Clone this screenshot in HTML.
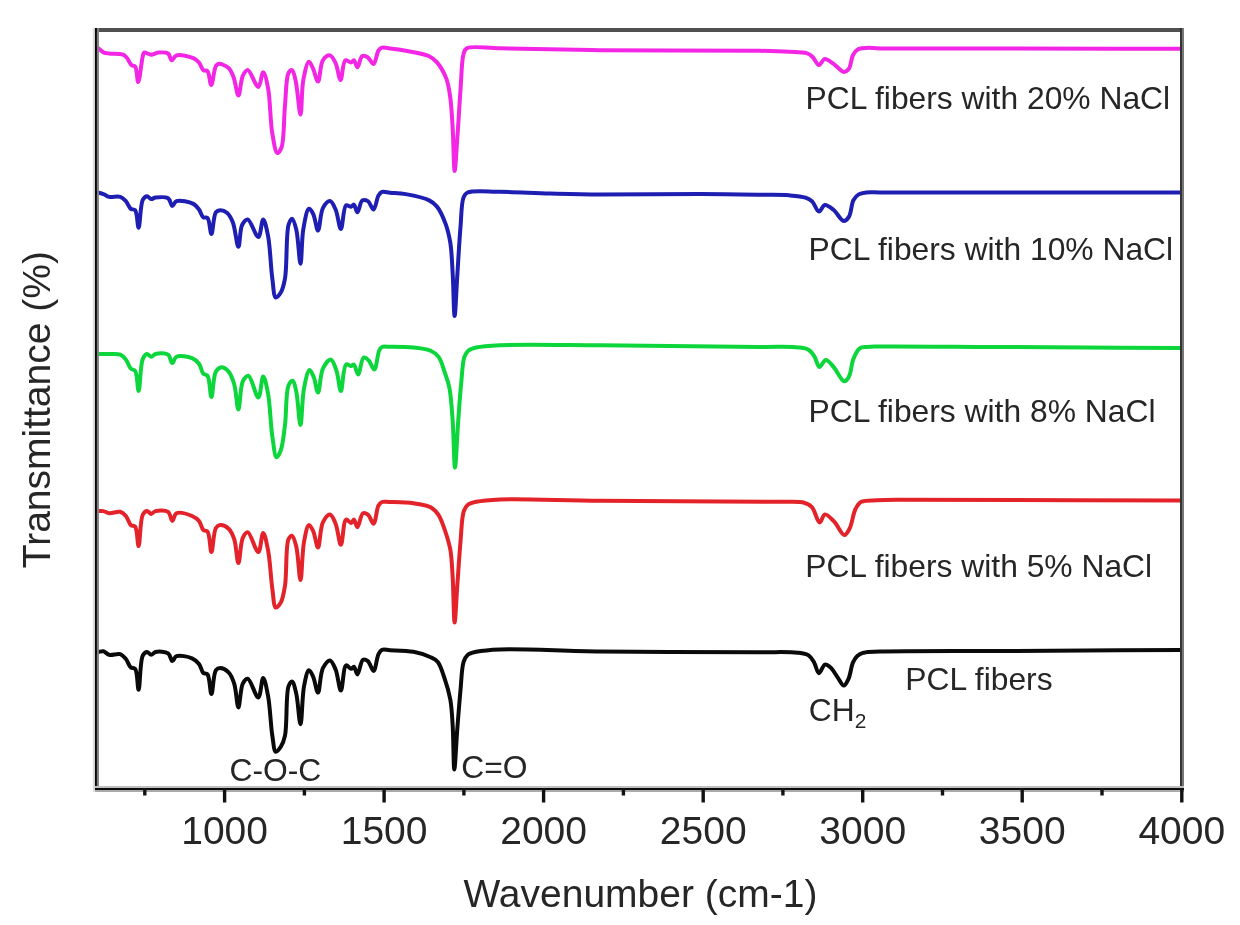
<!DOCTYPE html>
<html><head><meta charset="utf-8"><title>FTIR spectra of PCL fibers</title><style>
html,body{margin:0;padding:0;background:#fff;}
svg{display:block;}
text{font-family:"Liberation Sans",Arial,sans-serif;fill:#262626;}
</style></head><body>
<svg width="1240" height="925" viewBox="0 0 1240 925">
<rect width="1240" height="925" fill="#fff"/>
<g fill="none" stroke-width="4" stroke-linejoin="round" stroke-linecap="round">
<path d="M97.5,48.4 C97.8,48.4 98.1,48.3 98.5,48.4 C99.6,48.8 101.6,51.5 103.4,52.3 C105.1,53.1 106.8,53.2 109.1,53.5 C112.7,54.0 120.0,53.4 123.1,54.7 C125.0,55.5 125.7,56.6 127.0,58.0 C128.6,59.8 129.9,63.9 131.6,65.2 C132.7,66.1 134.2,65.4 135.1,66.5 C137.1,68.8 137.1,82.0 138.2,82.0 C139.6,82.0 141.5,60.6 142.8,56.0 C143.3,54.3 143.2,53.1 144.2,52.6 C145.6,52.0 148.9,54.7 151.2,54.7 C153.6,54.7 155.7,52.9 158.3,52.6 C161.3,52.3 165.9,52.0 168.1,53.5 C170.1,54.8 170.2,60.1 171.6,60.3 C173.0,60.5 174.1,56.2 176.5,55.4 C180.3,54.2 189.4,56.5 193.4,58.2 C196.0,59.3 197.4,60.7 199.0,62.5 C200.8,64.5 201.5,68.7 203.3,70.1 C204.5,71.1 206.4,70.1 207.5,71.2 C209.6,73.3 209.9,85.0 211.2,85.0 C212.7,85.0 213.9,69.1 215.9,66.0 C216.8,64.7 217.4,64.0 218.7,63.8 C220.9,63.5 226.1,65.8 228.6,68.0 C231.0,70.2 232.1,73.4 233.5,77.0 C235.5,82.0 236.9,95.5 238.4,95.5 C240.0,95.5 240.6,80.2 242.8,75.8 C244.2,73.1 245.9,70.0 247.7,70.1 C250.7,70.3 255.7,87.3 258.3,87.0 C260.6,86.7 261.6,72.3 263.2,72.3 C264.9,72.3 266.8,81.6 268.1,88.4 C270.3,99.5 270.2,121.5 272.3,133.4 C273.7,141.3 275.2,152.6 277.3,153.0 C278.5,153.3 280.4,150.4 281.5,147.5 C284.3,140.2 283.7,118.4 285.0,105.3 C286.1,93.8 285.9,77.8 288.5,73.0 C289.5,71.2 291.0,69.8 292.0,70.1 C293.5,70.5 294.4,75.6 295.5,80.0 C297.5,88.0 299.2,114.5 300.5,114.5 C301.8,114.5 301.5,89.6 303.3,80.0 C304.7,72.9 306.9,61.9 308.9,61.7 C310.2,61.5 311.8,65.9 313.1,68.7 C314.8,72.3 316.5,81.6 318.0,81.5 C319.9,81.4 320.0,64.6 322.9,60.3 C324.7,57.6 327.9,55.0 330.0,55.4 C332.2,55.8 334.0,59.9 335.6,63.1 C337.8,67.5 338.9,80.0 340.5,80.0 C342.2,80.0 342.6,61.8 345.4,60.3 C346.9,59.5 349.6,62.6 351.1,62.4 C352.3,62.2 353.0,60.1 353.9,60.3 C355.2,60.6 356.2,67.3 357.4,67.3 C358.9,67.3 360.0,57.2 362.3,56.1 C363.9,55.3 366.2,56.4 367.9,57.5 C370.0,58.8 372.0,64.3 373.6,64.0 C375.7,63.6 376.6,53.2 378.5,50.5 C379.6,49.0 380.5,48.2 382.0,47.7 C384.0,47.1 386.9,48.0 390.0,48.4 C394.4,48.9 400.0,49.6 405.7,50.7 C412.8,52.0 423.7,53.5 429.2,56.2 C432.8,57.9 434.5,59.5 437.0,62.4 C440.4,66.4 444.2,73.0 446.4,78.9 C448.6,84.8 449.3,90.6 450.3,97.7 C451.6,106.8 452.0,117.8 452.7,129.0 C453.5,142.0 453.8,171.0 454.6,171.0 C455.4,171.0 456.5,149.1 457.4,136.8 C458.5,122.4 459.4,104.4 460.5,89.8 C461.5,77.0 461.5,60.4 463.6,53.8 C464.5,51.0 464.6,49.6 466.8,48.3 C471.9,45.4 486.0,48.2 500.0,48.3 C524.4,48.5 562.8,49.8 600.0,50.2 C647.1,50.7 728.2,50.2 760.0,50.8 C773.6,51.1 780.6,51.3 789.0,51.8 C795.6,52.2 802.3,51.9 806.5,53.2 C809.1,54.0 810.4,55.0 812.3,56.6 C814.7,58.6 816.8,64.9 819.0,65.0 C820.9,65.1 822.5,59.3 824.8,59.0 C827.3,58.6 830.5,61.9 833.5,63.9 C837.0,66.2 841.3,71.9 844.2,72.0 C846.1,72.0 847.7,70.5 849.0,68.7 C851.0,65.9 851.1,58.6 852.9,55.2 C854.2,52.7 855.6,50.6 857.7,49.4 C860.0,48.1 863.2,48.1 866.5,47.9 C870.5,47.6 873.3,48.3 880.0,48.4 C900.1,48.8 955.9,48.5 1000.0,48.5 C1054.3,48.6 1121.0,48.6 1181.5,48.7" stroke="#f226e4"/>
<path d="M97.5,192.5 C97.8,192.6 98.0,192.6 98.5,192.7 C99.5,192.9 101.7,193.5 103.4,194.1 C105.3,194.8 106.8,196.4 109.1,196.9 C112.1,197.6 117.3,195.9 120.3,196.9 C122.6,197.7 124.2,199.3 125.9,201.1 C127.8,203.2 128.9,207.4 130.8,208.8 C132.1,209.8 133.9,208.9 135.1,210.2 C137.4,212.8 137.5,227.8 138.6,227.8 C140.0,227.8 140.2,204.4 142.8,199.7 C144.0,197.6 145.6,196.3 147.0,196.2 C148.4,196.1 149.7,198.8 151.2,199.0 C152.6,199.2 153.7,197.8 155.5,197.6 C158.6,197.2 165.3,196.5 168.1,198.3 C170.5,199.8 170.8,205.8 172.3,206.0 C173.6,206.1 174.3,201.9 176.5,201.1 C180.1,199.8 189.5,201.9 193.4,203.9 C196.1,205.3 197.4,207.3 199.0,209.5 C200.7,211.8 201.5,216.0 203.3,217.3 C204.5,218.2 206.3,216.9 207.5,218.0 C209.8,220.1 210.1,234.0 211.4,234.0 C212.9,234.0 213.3,215.6 215.9,212.3 C217.1,210.8 218.5,210.3 220.1,210.2 C222.1,210.1 225.2,211.3 227.2,213.0 C229.6,215.0 231.2,218.2 232.8,222.2 C235.3,228.3 236.8,246.8 238.4,246.8 C239.9,246.8 239.7,229.7 242.1,225.0 C243.5,222.2 245.7,219.2 247.7,219.4 C250.9,219.8 255.7,237.4 258.3,237.0 C260.8,236.7 261.5,219.4 263.2,219.4 C264.8,219.4 266.8,229.3 268.1,236.2 C270.2,247.0 270.7,267.1 272.3,278.4 C273.4,286.0 273.6,296.8 275.8,297.5 C277.1,297.9 279.4,294.8 280.8,292.5 C282.8,289.2 283.9,284.7 285.0,278.4 C287.2,266.4 285.9,234.0 288.5,225.0 C289.5,221.7 290.9,218.6 292.0,218.7 C293.4,218.8 295.0,224.6 296.2,229.2 C298.3,237.3 299.3,263.7 300.5,263.7 C301.7,263.7 301.6,239.1 303.3,229.2 C304.7,221.4 306.6,209.3 308.9,208.8 C310.2,208.5 311.9,211.4 313.1,213.7 C315.2,217.5 316.5,230.7 318.0,230.6 C319.8,230.5 320.1,213.2 322.9,208.1 C324.8,204.7 327.9,200.9 330.0,201.1 C332.1,201.3 334.0,206.0 335.6,209.5 C337.9,214.5 339.2,229.0 340.9,229.0 C342.7,229.0 343.1,207.1 346.1,205.3 C347.5,204.5 349.7,207.0 351.1,206.7 C352.2,206.5 353.0,204.4 353.9,204.6 C355.2,204.9 356.2,212.3 357.4,212.3 C358.9,212.3 360.0,201.8 362.3,200.4 C363.9,199.5 366.2,200.1 367.9,201.1 C370.1,202.5 371.9,209.7 373.6,209.5 C375.6,209.2 376.6,198.5 378.5,195.5 C379.6,193.7 380.4,192.5 382.0,191.9 C384.0,191.2 386.9,192.4 390.0,192.7 C394.4,193.1 400.0,193.1 405.7,194.1 C412.8,195.4 423.7,197.6 429.2,200.4 C432.7,202.2 434.6,203.7 437.0,206.6 C440.3,210.7 443.4,217.9 445.6,223.9 C447.8,229.9 449.1,235.6 450.3,242.7 C451.8,251.8 452.0,262.8 452.7,274.0 C453.5,287.0 453.8,316.0 454.6,316.0 C455.4,316.0 456.4,288.4 457.4,274.0 C458.4,258.8 459.3,240.9 460.5,227.0 C461.4,215.9 461.3,202.7 463.6,197.2 C464.7,194.7 465.2,193.6 467.6,192.5 C473.0,189.9 488.0,191.7 500.0,191.8 C514.9,191.9 533.3,193.1 550.0,193.5 C566.7,193.9 580.5,194.3 600.0,194.4 C627.6,194.6 670.9,193.9 700.0,194.0 C722.5,194.1 743.6,194.5 760.0,194.8 C771.4,195.0 780.7,194.6 789.0,195.3 C795.3,195.8 801.3,196.2 805.5,197.7 C808.4,198.7 810.2,199.7 812.3,201.6 C814.8,204.0 816.7,211.3 819.0,211.5 C820.9,211.6 822.5,205.4 824.8,205.0 C827.3,204.6 830.7,207.6 833.5,209.8 C837.0,212.6 840.8,220.8 843.7,221.0 C845.7,221.1 847.6,218.9 849.0,216.6 C851.3,213.1 851.3,204.1 853.4,200.2 C854.9,197.5 856.5,195.7 858.7,194.4 C860.9,193.1 863.5,192.8 866.5,192.4 C870.4,191.9 873.3,192.4 880.0,192.4 C900.1,192.4 955.9,192.5 1000.0,192.5 C1054.3,192.5 1121.0,192.6 1181.5,192.6" stroke="#1e1eb2"/>
<path d="M97.5,354.0 C97.8,354.0 98.0,354.0 98.5,354.0 C100.2,354.0 105.5,353.9 109.1,354.0 C112.8,354.1 117.4,353.5 120.3,354.7 C122.7,355.7 124.3,357.5 125.9,359.6 C127.8,362.0 128.9,366.8 130.8,368.7 C132.1,370.0 134.0,369.3 135.1,370.9 C137.5,374.1 137.5,391.0 138.6,391.0 C140.0,391.0 140.2,364.7 142.8,358.9 C144.0,356.3 145.5,354.2 147.0,354.0 C148.3,353.8 149.8,356.8 151.2,356.8 C152.6,356.8 153.6,354.5 155.5,354.0 C158.5,353.2 165.3,352.8 168.1,354.7 C170.5,356.3 170.8,363.0 172.3,363.1 C173.6,363.2 174.2,357.9 176.5,356.8 C179.8,355.2 188.0,356.6 192.0,358.2 C195.0,359.4 197.2,361.4 199.0,363.8 C201.0,366.4 201.5,371.7 203.3,373.7 C204.5,375.0 206.4,374.3 207.5,375.8 C210.0,379.1 210.1,397.0 211.4,397.0 C212.9,397.0 213.0,376.3 215.9,371.6 C217.4,369.1 219.5,367.4 221.5,367.3 C223.7,367.2 226.6,369.4 228.6,371.6 C231.1,374.5 232.7,379.2 234.2,384.2 C236.3,391.1 237.0,409.5 238.4,409.5 C239.9,409.5 240.0,387.0 242.8,381.4 C244.3,378.5 246.5,375.5 248.4,375.8 C251.7,376.4 255.8,397.7 258.3,397.5 C260.7,397.3 261.5,376.5 263.2,376.5 C264.8,376.5 266.8,386.8 268.1,394.0 C270.2,405.0 270.5,424.6 272.3,436.2 C273.6,444.5 274.6,457.0 276.6,457.3 C277.8,457.5 279.6,453.5 280.8,450.3 C282.9,444.6 283.8,434.4 285.0,425.0 C286.5,413.3 285.7,392.3 288.5,385.6 C289.6,382.9 291.5,380.5 292.7,380.7 C294.2,381.0 295.2,386.6 296.2,391.2 C298.0,399.2 299.2,425.0 300.5,425.0 C301.8,425.0 302.0,398.4 304.0,388.4 C305.4,381.2 307.6,370.3 309.6,370.1 C310.9,369.9 312.6,374.3 313.8,377.2 C315.5,381.2 316.6,392.5 318.0,392.5 C319.7,392.4 320.1,374.5 322.9,368.7 C324.9,364.6 328.5,359.4 330.7,359.6 C332.9,359.8 334.7,365.9 336.3,370.1 C338.4,375.8 339.4,391.0 340.9,391.0 C342.6,391.0 342.9,366.5 346.1,364.5 C347.5,363.6 349.7,366.0 351.1,365.9 C352.2,365.8 353.0,364.2 353.9,364.5 C355.5,365.1 356.7,374.5 358.1,374.4 C359.9,374.3 361.2,358.5 363.7,357.5 C365.1,357.0 367.1,358.8 368.6,360.3 C370.7,362.3 372.7,369.7 374.3,369.5 C376.5,369.2 377.4,354.2 379.2,350.5 C380.1,348.7 380.6,347.7 382.0,347.0 C383.9,346.1 386.6,346.8 390.0,346.8 C395.8,346.8 406.3,346.7 413.5,347.5 C419.7,348.2 426.3,348.7 430.7,350.7 C434.1,352.2 436.4,354.0 438.6,356.9 C441.4,360.7 443.0,367.3 444.8,372.6 C446.6,377.8 448.3,382.0 449.5,388.3 C451.2,397.2 451.8,409.3 452.7,421.2 C453.7,435.3 454.1,467.5 455.0,467.5 C455.9,467.5 457.1,436.0 458.2,421.2 C459.2,407.6 460.1,393.6 461.3,382.0 C462.2,372.7 462.5,362.3 464.4,356.9 C465.4,354.0 466.5,352.2 468.3,350.7 C470.3,349.0 472.8,348.3 476.2,347.5 C481.9,346.1 489.3,345.7 500.0,345.2 C521.8,344.2 562.8,345.1 600.0,345.3 C647.1,345.6 724.8,346.5 760.0,346.9 C777.3,347.1 790.1,346.3 798.7,347.4 C803.1,348.0 805.8,348.2 808.4,349.8 C810.8,351.2 812.5,353.6 814.2,356.1 C816.3,359.1 817.4,366.7 819.5,367.0 C821.3,367.3 823.5,360.1 825.8,360.0 C828.2,359.9 830.9,363.9 833.5,366.8 C837.0,370.6 841.2,381.1 844.2,381.3 C846.0,381.4 847.7,378.9 849.0,376.5 C851.2,372.7 851.3,364.0 853.4,359.0 C855.1,354.9 857.1,350.3 859.7,348.4 C861.7,347.0 863.8,347.2 866.5,346.9 C870.2,346.4 873.3,346.6 880.0,346.5 C900.1,346.2 955.9,346.8 1000.0,347.0 C1054.3,347.3 1121.0,347.7 1181.5,348.0" stroke="#0cd63c"/>
<path d="M97.5,511.1 C97.8,511.1 98.0,511.1 98.5,511.1 C99.5,511.1 101.7,510.8 103.4,511.1 C105.3,511.4 106.8,512.9 109.1,513.2 C112.2,513.6 117.3,511.0 120.3,511.8 C122.6,512.4 124.3,514.1 125.9,516.0 C127.9,518.3 128.9,523.4 130.8,525.1 C132.1,526.2 133.9,525.3 135.1,526.6 C137.5,529.4 137.5,546.0 138.6,546.0 C140.0,546.0 140.0,519.7 142.8,514.6 C144.0,512.5 145.6,511.2 147.0,511.1 C148.4,511.0 149.8,513.9 151.2,513.9 C152.6,513.9 153.6,511.6 155.5,511.1 C158.5,510.3 165.3,509.9 168.1,511.8 C170.6,513.5 170.9,520.9 172.3,520.9 C173.7,520.9 174.1,514.4 176.5,513.2 C179.8,511.6 188.0,514.3 192.0,516.0 C195.0,517.2 197.2,518.7 199.0,520.9 C201.0,523.3 201.5,528.5 203.3,530.1 C204.5,531.2 206.4,530.2 207.5,531.5 C210.0,534.3 210.1,552.0 211.4,552.0 C212.9,552.0 213.3,532.0 215.9,528.0 C217.1,526.2 218.4,525.3 220.1,525.1 C222.4,524.9 226.3,526.6 228.6,528.7 C231.2,531.1 232.7,534.8 234.2,539.2 C236.3,545.4 237.0,563.0 238.4,563.0 C239.9,563.0 240.3,543.0 242.8,537.8 C244.1,535.0 245.9,532.0 247.7,532.2 C250.8,532.6 255.7,552.3 258.3,552.0 C260.7,551.7 261.5,532.9 263.2,532.9 C264.8,532.9 266.7,543.5 268.1,550.5 C270.1,560.7 270.8,577.9 272.3,588.4 C273.4,595.9 273.6,606.8 275.8,607.5 C277.1,607.9 279.4,604.9 280.8,602.5 C282.9,598.7 283.9,592.7 285.0,585.6 C286.9,574.0 285.5,545.7 288.5,539.2 C289.5,537.1 290.9,535.5 292.0,535.7 C293.6,536.0 295.0,541.6 296.2,546.2 C298.3,554.2 299.2,580.0 300.5,580.0 C301.8,580.0 302.1,552.1 304.0,542.0 C305.3,535.2 306.9,525.5 308.9,525.1 C310.2,524.9 311.8,528.3 313.1,530.8 C315.1,534.8 316.5,547.6 318.0,547.5 C319.8,547.4 320.0,528.0 322.9,522.3 C324.8,518.6 327.9,514.4 330.0,514.6 C332.1,514.8 334.0,519.9 335.6,523.7 C337.9,529.1 339.2,544.8 340.9,544.8 C342.7,544.8 343.2,520.6 346.1,519.5 C347.5,518.9 349.7,523.2 351.1,523.0 C352.3,522.8 353.0,519.4 353.9,519.5 C355.1,519.7 356.1,527.3 357.4,527.3 C359.1,527.3 360.5,514.4 363.0,513.2 C364.4,512.5 366.4,513.5 367.9,514.6 C370.1,516.2 372.0,523.9 373.6,523.7 C375.7,523.4 376.4,509.1 378.5,505.5 C379.6,503.7 380.4,502.7 382.0,502.0 C384.0,501.2 386.6,501.9 390.0,502.0 C395.8,502.2 406.3,502.3 413.5,503.3 C419.7,504.2 426.3,504.8 430.7,507.2 C434.2,509.1 436.3,511.7 438.6,515.1 C441.5,519.5 443.6,526.5 445.6,532.3 C447.5,538.0 449.1,543.0 450.3,549.5 C451.8,557.7 452.0,567.2 452.7,577.7 C453.5,590.9 453.8,622.5 454.6,622.5 C455.4,622.5 456.4,597.1 457.4,584.0 C458.4,570.2 459.4,554.6 460.5,541.7 C461.5,530.9 461.6,518.3 463.6,511.9 C464.7,508.6 465.6,506.6 467.6,504.9 C469.7,503.1 472.6,502.6 476.2,501.8 C482.1,500.5 489.3,499.9 500.0,499.4 C521.8,498.5 561.8,500.4 600.0,500.8 C651.2,501.3 747.8,501.1 780.0,501.8 C791.8,502.1 798.5,501.1 804.2,502.7 C807.6,503.7 809.6,504.7 811.9,507.1 C815.1,510.4 817.2,522.4 819.7,522.5 C821.5,522.6 822.7,514.8 825.0,514.4 C827.5,514.0 831.2,518.6 834.2,521.6 C837.8,525.2 841.5,535.0 844.4,535.0 C846.4,535.0 848.1,531.4 849.7,528.4 C852.1,523.8 853.0,513.7 855.5,509.0 C857.2,505.8 858.5,503.3 861.3,501.8 C865.0,499.8 871.1,500.6 876.8,500.3 C883.7,499.9 888.0,499.9 900.0,499.8 C941.9,499.4 1087.7,500.3 1181.5,500.6" stroke="#e4222a"/>
<path d="M97.5,652.0 C97.8,652.0 98.0,652.0 98.5,652.0 C99.5,651.9 101.8,650.9 103.4,651.2 C105.3,651.6 106.8,654.2 109.1,654.8 C112.1,655.6 117.4,653.1 120.3,654.1 C122.7,654.9 124.2,657.0 125.9,659.0 C127.8,661.3 128.9,665.9 130.8,667.4 C132.1,668.5 133.9,667.5 135.1,668.8 C137.6,671.7 137.5,689.8 138.6,689.8 C140.0,689.8 139.9,660.9 142.8,655.5 C144.0,653.4 145.6,652.1 147.0,652.0 C148.4,651.9 149.8,654.8 151.2,654.8 C152.6,654.8 153.6,652.5 155.5,652.0 C158.5,651.3 165.3,651.5 168.1,653.4 C170.5,655.0 170.8,660.9 172.3,661.1 C173.6,661.2 174.3,657.0 176.5,656.2 C179.8,654.9 188.0,656.6 192.0,658.3 C195.0,659.6 197.1,661.5 199.0,663.9 C201.0,666.4 201.5,671.4 203.3,673.0 C204.5,674.1 206.4,673.1 207.5,674.4 C209.9,677.2 210.1,694.0 211.4,694.0 C212.9,694.0 213.2,673.7 215.9,670.2 C217.1,668.6 218.5,668.1 220.1,668.1 C222.4,668.1 226.3,670.0 228.6,672.3 C231.2,674.9 232.7,679.0 234.2,683.6 C236.3,690.0 237.0,707.4 238.4,707.4 C239.8,707.4 240.3,688.4 242.8,683.6 C244.1,681.1 245.9,678.5 247.7,678.7 C250.8,679.1 255.7,697.8 258.3,697.5 C260.8,697.2 261.5,678.0 263.2,678.0 C264.8,678.0 266.7,688.9 268.1,696.2 C270.1,706.8 270.7,725.4 272.3,735.6 C273.4,742.2 273.8,751.2 275.8,751.8 C277.1,752.2 279.4,749.0 280.8,746.8 C282.6,744.0 283.9,740.8 285.0,735.6 C287.3,725.1 285.7,694.1 288.5,686.4 C289.5,683.7 290.9,681.3 292.0,681.5 C293.6,681.7 295.0,688.4 296.2,693.4 C298.1,701.2 299.2,724.3 300.5,724.3 C301.9,724.3 302.1,696.3 304.0,686.4 C305.3,679.8 307.0,670.5 308.9,670.2 C310.2,670.0 311.8,673.9 313.1,676.6 C315.0,680.6 316.5,692.7 318.0,692.6 C319.8,692.5 320.0,673.7 322.9,668.1 C324.8,664.5 327.9,660.2 330.0,660.4 C332.1,660.6 334.0,665.7 335.6,669.5 C337.9,674.9 339.2,690.5 340.9,690.5 C342.7,690.5 343.2,666.4 346.1,665.3 C347.5,664.7 349.7,668.8 351.1,668.8 C352.2,668.8 353.0,666.5 353.9,666.7 C355.2,667.0 356.1,674.4 357.4,674.4 C359.1,674.3 360.5,661.0 363.0,659.7 C364.4,659.0 366.4,659.9 367.9,661.1 C370.1,662.8 372.0,671.2 373.6,671.0 C375.6,670.8 376.6,657.8 378.5,654.1 C379.6,652.0 380.4,650.5 382.0,649.8 C384.0,648.9 386.6,650.0 390.0,650.2 C395.8,650.5 406.3,650.5 413.5,651.8 C419.8,653.0 426.3,655.1 430.7,657.2 C433.7,658.6 435.8,659.4 437.8,661.9 C440.8,665.6 442.8,673.1 444.8,679.2 C447.0,685.6 449.0,692.2 450.3,699.5 C451.8,707.7 452.1,716.2 452.7,726.2 C453.5,738.9 453.5,769.5 454.3,769.5 C455.1,769.5 456.3,741.3 457.4,727.7 C458.4,714.8 459.4,701.7 460.5,690.1 C461.5,680.0 461.6,668.0 463.6,661.9 C464.7,658.6 465.6,656.6 467.6,654.9 C469.7,653.1 472.6,652.6 476.2,651.8 C482.1,650.5 489.3,649.8 500.0,649.4 C521.8,648.5 562.8,651.0 600.0,651.5 C647.1,652.1 725.1,651.9 760.0,652.2 C777.0,652.3 789.1,651.6 797.8,652.7 C802.5,653.3 805.8,653.6 808.6,655.4 C811.1,657.0 812.5,659.7 814.1,662.4 C816.0,665.5 817.0,673.0 818.9,673.2 C820.7,673.4 822.7,665.2 824.9,664.6 C826.6,664.2 828.5,665.8 830.3,667.3 C832.9,669.5 835.4,674.4 837.8,677.6 C839.9,680.4 841.9,685.5 843.8,685.5 C845.5,685.5 847.2,681.5 848.6,678.6 C850.5,674.5 851.1,666.5 853.0,662.4 C854.3,659.7 855.5,657.6 857.3,656.0 C859.1,654.4 861.1,653.5 863.8,652.7 C867.9,651.6 872.1,651.9 880.0,651.6 C901.5,650.8 955.9,651.2 1000.0,651.0 C1054.3,650.7 1121.0,650.3 1181.5,650.0" stroke="#0a0a0a"/>
</g>
<g fill="none">
<line x1="95" y1="29.95" x2="1184" y2="29.95" stroke="#505050" stroke-width="3.9"/>
<line x1="1181" y1="28" x2="1181" y2="790" stroke="#333" stroke-width="2"/>
<line x1="1183" y1="28" x2="1183" y2="790" stroke="#777" stroke-width="2"/>
<line x1="93.7" y1="28" x2="93.7" y2="792" stroke="#ddd" stroke-width="1.8"/>
<line x1="97.9" y1="28" x2="97.9" y2="790" stroke="#808080" stroke-width="2.1"/>
<line x1="95.9" y1="28" x2="95.9" y2="791" stroke="#050505" stroke-width="2"/>
<line x1="95" y1="787" x2="1184" y2="787" stroke="#c0c0c0" stroke-width="2"/>
<line x1="95" y1="791" x2="1184" y2="791" stroke="#aaa" stroke-width="2"/>
<line x1="95" y1="789" x2="1184" y2="789" stroke="#0a0a0a" stroke-width="2.1"/>
</g>
<g stroke="#111" stroke-width="3.4">
<line x1="144.8" y1="788" x2="144.8" y2="795.5"/>
<line x1="224.6" y1="788" x2="224.6" y2="802.5"/>
<line x1="304.4" y1="788" x2="304.4" y2="795.5"/>
<line x1="384.1" y1="788" x2="384.1" y2="802.5"/>
<line x1="463.9" y1="788" x2="463.9" y2="795.5"/>
<line x1="543.6" y1="788" x2="543.6" y2="802.5"/>
<line x1="623.4" y1="788" x2="623.4" y2="795.5"/>
<line x1="703.2" y1="788" x2="703.2" y2="802.5"/>
<line x1="782.9" y1="788" x2="782.9" y2="795.5"/>
<line x1="862.7" y1="788" x2="862.7" y2="802.5"/>
<line x1="942.5" y1="788" x2="942.5" y2="795.5"/>
<line x1="1022.2" y1="788" x2="1022.2" y2="802.5"/>
<line x1="1102.0" y1="788" x2="1102.0" y2="795.5"/>
<line x1="1181.8" y1="788" x2="1181.8" y2="802.5"/>
</g>
<g font-size="39">
<text x="224.6" y="843.5" text-anchor="middle">1000</text>
<text x="384.1" y="843.5" text-anchor="middle">1500</text>
<text x="543.6" y="843.5" text-anchor="middle">2000</text>
<text x="703.2" y="843.5" text-anchor="middle">2500</text>
<text x="862.7" y="843.5" text-anchor="middle">3000</text>
<text x="1022.2" y="843.5" text-anchor="middle">3500</text>
<text x="1181.8" y="843.5" text-anchor="middle">4000</text>
<text x="463.5" y="907">Wavenumber (cm-1)</text>
<text transform="translate(50.3,568.2) rotate(-90)">Transmittance (%)</text>
</g>
<g font-size="31.8">
<text x="805.5" y="108.7">PCL fibers with 20% NaCl</text>
<text x="808.5" y="260.2">PCL fibers with 10% NaCl</text>
<text x="808.5" y="422.4">PCL fibers with 8% NaCl</text>
<text x="805.2" y="576.6">PCL fibers with 5% NaCl</text>
<text x="905.3" y="689.5">PCL fibers</text>
<text x="229.5" y="781">C-O-C</text>
<text x="461.3" y="777.5">C=O</text>
<text x="808.7" y="721">CH<tspan font-size="21" dy="7">2</tspan></text>
</g>
</svg>
</body></html>
